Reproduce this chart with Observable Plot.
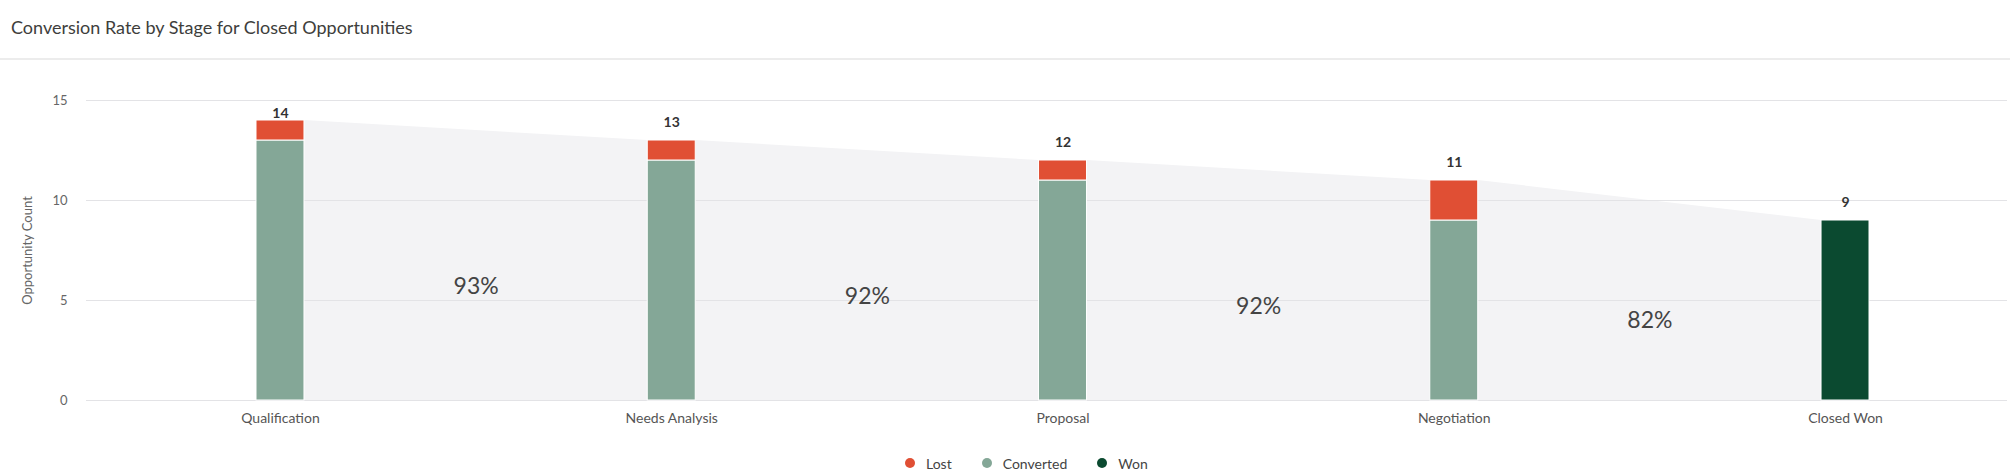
<!DOCTYPE html>
<html><head><meta charset="utf-8">
<script src="https://cdn.jsdelivr.net/npm/d3@7"></script>
<script src="https://cdn.jsdelivr.net/npm/@observablehq/plot@0.6"></script>
<style>
body{margin:0;background:#fff;font-family:Lato,"Open Sans",sans-serif;width:2010px;height:472px;position:relative;overflow:hidden}
#title{position:absolute;left:11px;top:15px;font-size:18px;color:#3e3e3c;line-height:24px}
#rule{position:absolute;left:0;top:58px;width:2010px;height:2px;background:#ececec}
#chart{position:absolute;left:0;top:60px}
#legend{position:absolute;top:453px;left:905px;display:flex;align-items:center;font-size:14px;color:#444;height:20px}
.item{display:flex;align-items:center;margin-right:30px}
.dot{width:10px;height:10px;border-radius:50%;margin-right:11px}
</style></head>
<body>
<div id="title">Conversion Rate by Stage for Closed Opportunities</div>
<div id="rule"></div>
<div id="chart"></div>
<div id="legend"></div>
<script>
const stages = ["Qualification", "Needs Analysis", "Proposal", "Negotiation", "Closed Won"];
const lost = [1, 1, 1, 2, 0];
const converted = [13, 12, 11, 9, 0];
const won = [0, 0, 0, 0, 9];
const seriesNames = ["Lost", "Converted", "Won"];
const seriesColors = ["#e04f34", "#84a797", "#0b4a30"];
const yTicks = [0, 5, 10, 15];
const yLabel = "Opportunity Count";

const totals = stages.map((s, i) => lost[i] + converted[i] + won[i]);
const rows = [];
stages.forEach((s, i) => {
  rows.push({i, series: "Converted", value: converted[i]});
  rows.push({i, series: "Won", value: won[i]});
  rows.push({i, series: "Lost", value: lost[i]});
});
const barRows = rows.filter(d => d.value > 0);
const hw = 0.0613; // half bar width in index units
const areaPts = stages.flatMap((s, i) => [{x: i - hw, y: totals[i]}, {x: i + hw, y: totals[i]}]);
const rates = stages.slice(0, -1).map((s, i) => ({
  x: i + 0.5,
  y: (totals[i] + totals[i] + totals[i + 1]) / 6,
  label: Math.round(100 * converted[i] / totals[i]) + "%"
}));
const yMax = 15;
const totalLabels = stages.map((s, i) => ({x: i, y: Math.min(totals[i], yMax - 1.55), label: String(totals[i])}));

const chart = Plot.plot({
  width: 2010, height: 380,
  marginTop: 40, marginLeft: 86, marginRight: 3, marginBottom: 40,
  style: {fontFamily: "Lato, 'Open Sans', sans-serif", background: "transparent", overflow: "visible"},
  x: {domain: [-0.4958, 4.414], axis: null},
  y: {domain: [0, yMax], axis: null},
  color: {domain: seriesNames, range: seriesColors},
  marks: [
    Plot.areaY(areaPts, {x: "x", y: "y", fill: "#f3f3f5"}),
    Plot.gridY(yTicks, {stroke: "#e3e3e6", strokeOpacity: 1}),
    Plot.rectY(barRows, {x1: d => d.i - hw, x2: d => d.i + hw, y: "value", fill: "series",
      order: ["Converted", "Won", "Lost"], stroke: "#fff", strokeWidth: 1}),
    Plot.text(totalLabels, {x: "x", y: "y", text: "label", dy: -18, fontWeight: 700, fontSize: 14, fill: "#333"}),
    Plot.text(rates, {x: "x", y: "y", text: "label", dy: 23, fontSize: 23, fill: "#444"}),
    Plot.axisX(stages.map((s, i) => i), {tickFormat: i => stages[i], tickSize: 0, tickPadding: 13, fontSize: 14, fill: "#555", label: null}),
    Plot.axisY(yTicks, {tickSize: 0, tickPadding: 19, fontSize: 13, fill: "#666", label: yLabel,
      labelAnchor: "center", labelArrow: "none", labelOffset: 64})
  ]
});
document.getElementById("chart").appendChild(chart);

const legend = document.getElementById("legend");
seriesNames.forEach((n, k) => {
  const it = document.createElement("div");
  it.className = "item";
  const dot = document.createElement("span");
  dot.className = "dot";
  dot.style.background = seriesColors[k];
  const t = document.createElement("span");
  t.textContent = n;
  it.appendChild(dot); it.appendChild(t);
  legend.appendChild(it);
});
</script>
</body></html>
